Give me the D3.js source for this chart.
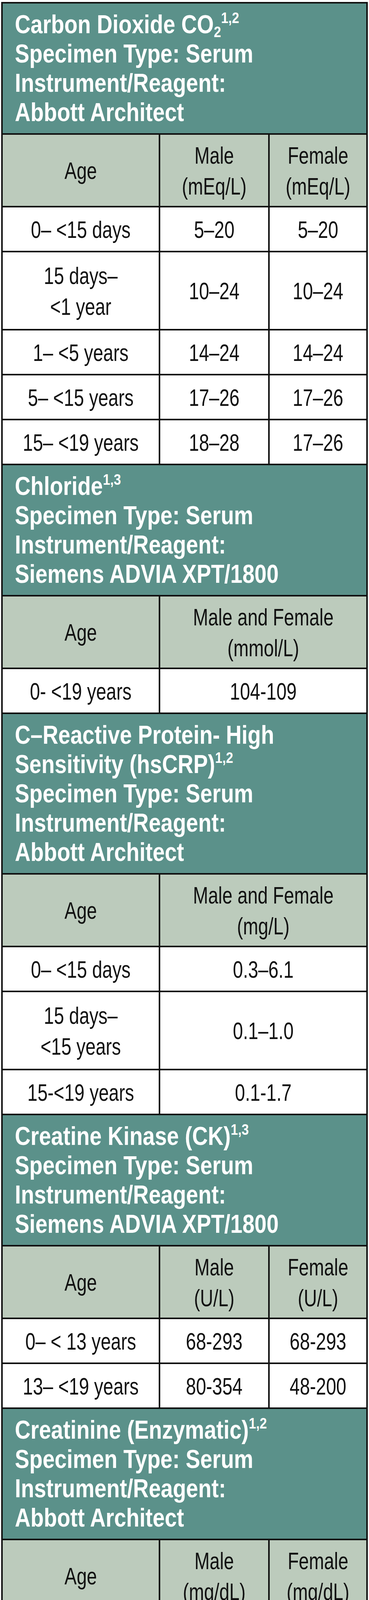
<!DOCTYPE html>
<html>
<head>
<meta charset="utf-8">
<script src="https://cdn.jsdelivr.net/npm/d3@7"></script>
<style>
  body { margin: 0; background: #fff; }
  svg { display: block; }
</style>
</head>
<body>
<svg id="chart"></svg>
<script>
// ---- data ----
var co2Title = ["Carbon Dioxide CO|2|1,2", "Specimen Type: Serum", "Instrument/Reagent:", "Abbott Architect"]
var co2Cols = ["Age", "Male\n(mEq/L)", "Female\n(mEq/L)"]
var co2Ages = ["0– <15 days", "15 days–\n<1 year", "1– <5 years", "5– <15 years", "15– <19 years"]
var co2Male = ["5–20", "10–24", "14–24", "17–26", "18–28"]
var co2Female = ["5–20", "10–24", "14–24", "17–26", "17–26"]

var clTitle = ["Chloride||1,3", "Specimen Type: Serum", "Instrument/Reagent:", "Siemens ADVIA XPT/1800"]
var clCols = ["Age", "Male and Female\n(mmol/L)"]
var clAges = ["0- <19 years"]
var clBoth = ["104-109"]

var crpTitle = ["C–Reactive Protein- High", "Sensitivity (hsCRP)||1,2", "Specimen Type: Serum", "Instrument/Reagent:", "Abbott Architect"]
var crpCols = ["Age", "Male and Female\n(mg/L)"]
var crpAges = ["0– <15 days", "15 days–\n<15 years", "15-<19 years"]
var crpBoth = ["0.3–6.1", "0.1–1.0", "0.1-1.7"]

var ckTitle = ["Creatine Kinase (CK)||1,3", "Specimen Type: Serum", "Instrument/Reagent:", "Siemens ADVIA XPT/1800"]
var ckCols = ["Age", "Male\n(U/L)", "Female\n(U/L)"]
var ckAges = ["0– < 13 years", "13– <19 years"]
var ckMale = ["68-293", "80-354"]
var ckFemale = ["68-293", "48-200"]

var crTitle = ["Creatinine (Enzymatic)||1,2", "Specimen Type: Serum", "Instrument/Reagent:", "Abbott Architect"]
var crCols = ["Age", "Male\n(mg/dL)", "Female\n(mg/dL)"]
var crAges = ["0– <15 days", "15 days– <2\nyears", "2– <5 years", "5– <12 years", "12– <15 years", "15– <19 years"]
var crMale = ["0.32–0.92", "0.1–0.36", "0.2–0.43", "0.31–0.61", "0.45–0.81", "0.62–1.08"]
var crFemale = ["0.32–0.92", "0.1–0.36", "0.2–0.43", "0.31–0.61", "0.45–0.81", "0.49–0.84"]

var gluTitle = ["Glucose (Random)||1,3", "Specimen Type: Serum", "Instrument/Reagent:", "Siemens ADVIA XPT/1800"]
var gluCols = ["Age", "Male and Female\n(mg/dL)"]
var gluAges = ["0- <19 years"]
var gluBoth = ["73-112"]

// build the table model from the arrays
var sections = [
  {title: co2Title, cols: co2Cols, rows: d3.zip(co2Ages, co2Male, co2Female)},
  {title: clTitle, cols: clCols, rows: d3.zip(clAges, clBoth)},
  {title: crpTitle, cols: crpCols, rows: d3.zip(crpAges, crpBoth)},
  {title: ckTitle, cols: ckCols, rows: d3.zip(ckAges, ckMale, ckFemale)},
  {title: crTitle, cols: crCols, rows: d3.zip(crAges, crMale, crFemale)},
  {title: gluTitle, cols: gluCols, rows: d3.zip(gluAges, gluBoth)}
]

var W = 944, H = 5540
var teal = "#5b918a", sage = "#bccbbc"
var font = "'Liberation Sans', Arial, sans-serif"
var lineH = 79, bodyFs = 62, titleFs = 66, titleLine = 75

var x3 = d3.scaleOrdinal().domain([0, 1, 2, 3]).range([5, 408, 688, 939])
var x2 = d3.scaleOrdinal().domain([0, 1, 2]).range([5, 408, 939])

var svg = d3.select("#chart").attr("width", W).attr("height", H)
svg.append("rect").attr("width", W).attr("height", H).attr("fill", "#fff")

// measure to get a condensed look from a regular font
function measure(str, fs, weight) {
  var t = svg.append("text").attr("font-family", font).attr("font-size", fs)
    .attr("font-weight", weight).text(str)
  var w = t.node().getComputedTextLength()
  t.remove()
  return w
}
var bodySx = 255 / measure("0– <15 days", bodyFs, "normal")
var titleSx = 610 / measure("Specimen Type: Serum", titleFs, "bold")

function rowHeight(cells) {
  var n = d3.max(cells, function(c) { return c.split("\n").length })
  return n > 1 ? 200 : 115
}

function cellText(g, txt, cx, top, h, fill) {
  var lines = txt.split("\n")
  var mid = top + h / 2
  lines.forEach(function(l, i) {
    var yy = mid + (i - (lines.length - 1) / 2) * lineH + bodyFs * 0.36
    g.append("text")
      .attr("transform", "translate(" + cx + "," + yy + ") scale(" + bodySx + ",1)")
      .attr("text-anchor", "middle")
      .attr("font-family", font)
      .attr("font-size", bodyFs)
      .attr("fill", fill)
      .text(l)
  })
}

var y = 7
sections.forEach(function(s) {
  var g = svg.append("g")
  var x = s.cols.length === 3 ? x3 : x2
  var nc = s.cols.length

  // title block
  var th = 36 + titleLine * s.title.length
  g.append("rect").attr("x", x(0)).attr("y", y).attr("width", x(nc) - x(0)).attr("height", th)
    .attr("fill", teal).attr("stroke", "#111").attr("stroke-width", 4)
  s.title.forEach(function(line, i) {
    var parts = line.split("|")
    var t = g.append("text")
      .attr("transform", "translate(38," + (y + 78 + i * titleLine) + ") scale(" + titleSx + ",1)")
      .attr("font-family", font).attr("font-weight", "bold")
      .attr("font-size", titleFs).attr("fill", "#fff")
    t.append("tspan").text(parts[0])
    if (parts[1]) t.append("tspan").attr("font-size", titleFs * 0.6).attr("dy", 10).text(parts[1])
    if (parts[2]) t.append("tspan").attr("font-size", titleFs * 0.6)
      .attr("dy", parts[1] ? -36 : -26).text(parts[2])
  })
  y += th

  // column header
  var hh = 186
  s.cols.forEach(function(c, i) {
    g.append("rect").attr("x", x(i)).attr("y", y).attr("width", x(i + 1) - x(i)).attr("height", hh)
      .attr("fill", sage).attr("stroke", "#111").attr("stroke-width", 4)
    cellText(g, c, (x(i) + x(i + 1)) / 2, y, hh, "#111")
  })
  y += hh

  // data rows
  s.rows.forEach(function(r) {
    var rh = rowHeight(r)
    r.forEach(function(c, i) {
      g.append("rect").attr("x", x(i)).attr("y", y).attr("width", x(i + 1) - x(i)).attr("height", rh)
        .attr("fill", "#fff").attr("stroke", "#111").attr("stroke-width", 4)
      cellText(g, c, (x(i) + x(i + 1)) / 2, y, rh, "#111")
    })
    y += rh
  })
})
</script>
</body>
</html>
